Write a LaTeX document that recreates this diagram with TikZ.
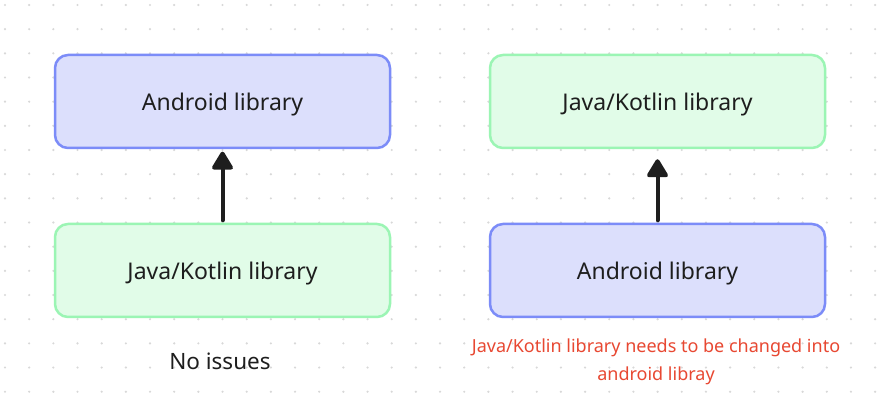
\documentclass[tikz,border=0pt]{standalone}
\usepackage{fontspec}
\setmainfont{Noto Sans}
\usetikzlibrary{arrows.meta}
\definecolor{bluefill}{RGB}{220,223,252}
\definecolor{blueline}{RGB}{124,140,248}
\definecolor{greenfill}{RGB}{225,252,232}
\definecolor{greenline}{RGB}{155,245,180}
\definecolor{ink}{RGB}{30,30,30}
\definecolor{warn}{RGB}{232,72,50}
\definecolor{dotc}{RGB}{216,216,216}
\tikzset{
  libbox/.style={rounded corners=13pt, line width=2.5pt, minimum width=335pt, minimum height=93pt,
    font=\fontsize{23}{27}\selectfont, text=ink, inner sep=0pt, text height={0.714em+10pt}, text depth=0pt},
  andbox/.style={libbox, draw=blueline, fill=bluefill},
  jvbox/.style={libbox, draw=greenline, fill=greenfill},
  arr/.style={line width=4pt, draw=ink, line cap=round, -{Triangle[width=23pt,length=20pt,round]}},
  note/.style={font=\fontsize{22.5}{27}\selectfont, text=ink},
  warnnote/.style={font=\fontsize{18}{28.4}\selectfont, text=warn, align=center}
}
\begin{document}
\begin{tikzpicture}[x=1pt,y=-1pt]
\fill[white] (0,0) rectangle (884,411);
\useasboundingbox (0,0) rectangle (884,411);
\foreach \i in {0,...,36} {
  \foreach \j in {0,...,16} {
    \fill[dotc] ({5+24.17*\i},{5+24.17*\j}) circle (1.2pt);
  }
}
\node[andbox] (lt) at (222.5,101.5) {Android library};
\node[jvbox]  (lb) at (222.5,270.5) {Java/Kotlin library};
\node[jvbox]  (rt) at (657.5,101.5) {Java/Kotlin library};
\node[andbox] (rb) at (657.5,270.5) {Android library};
\draw[arr] ([yshift=2.5pt]lb.north) -- ([yshift=-2.4pt]lt.south);
\draw[arr] ([yshift=2.5pt]rb.north) -- ([yshift=-10pt]rt.south);
\node[note] (ok) at (220,361.5) {No issues};
\node[warnnote] (bad) at (656,362) {Java/Kotlin library needs to be changed into\\android libray};
\end{tikzpicture}
\end{document}
